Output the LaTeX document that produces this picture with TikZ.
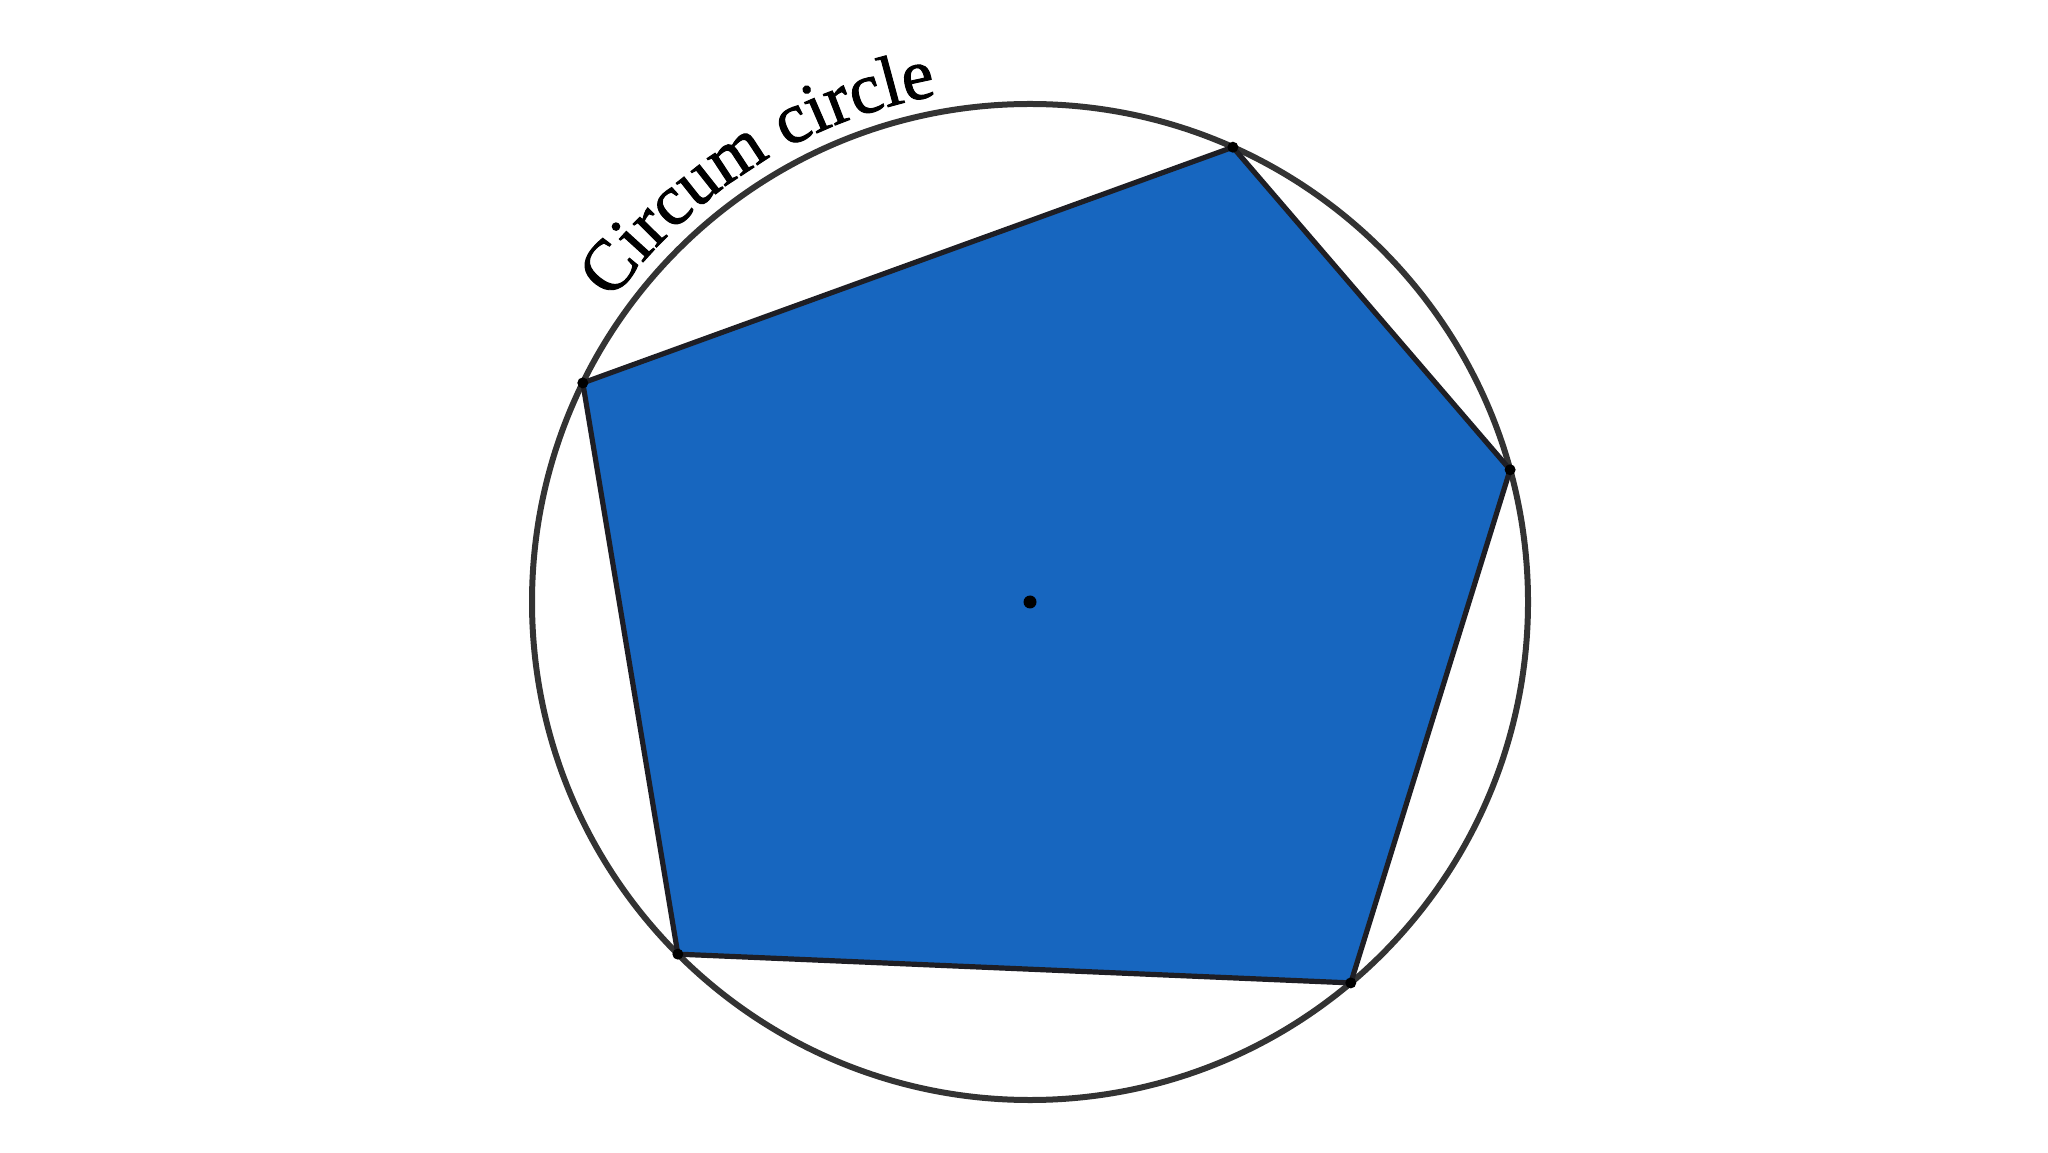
\documentclass[tikz,border=0pt]{standalone}
\usepackage{fontspec}
\setmainfont{Liberation Serif}
\newfontfamily\labelfont[FakeBold=1.3]{Liberation Serif}
\usetikzlibrary{decorations.text,calc}
\definecolor{polyblue}{HTML}{1766BF}
\definecolor{circgray}{HTML}{333333}
\definecolor{edgedark}{HTML}{1E1E24}
\tikzset{
  vdot/.style={circle,fill=black,inner sep=0pt,minimum size=5.5pt},
  cdot/.style={circle,fill=black,inner sep=0pt,minimum size=6.5pt},
}
\begin{document}
\begin{tikzpicture}[x=0.5pt,y=0.5pt]
\useasboundingbox[fill=white] (0,0) rectangle (2048,1152);
\coordinate (O) at (1030,550);
\coordinate (A) at ($(O)+(65.96:498)$);
\coordinate (B) at ($(O)+(15.4:498)$);
\coordinate (C) at ($(O)+(-49.9:498)$);
\coordinate (D) at ($(O)+(-135:498)$);
\coordinate (E) at ($(O)+(153.9:498)$);
\fill[polyblue] (A) -- (B) -- (C) -- (D) -- (E) -- cycle;
\draw[circgray,line width=3pt] (O) circle[radius=498];
\draw[edgedark,line width=2.6pt,line join=round] (A) -- (B) -- (C) -- (D) -- (E) -- cycle;
\foreach \p in {A,B,C,D,E} \node[vdot] (d\p) at (\p) {};
\node[cdot] (center) at (O) {};
\path[decorate,decoration={text along path,text align=center,
  text={|\labelfont\fontsize{36}{40}\selectfont|Circum circle}}]
  ($(O)+(153:515)$) arc[start angle=153,end angle=91.6,radius=515];
\end{tikzpicture}
\end{document}
